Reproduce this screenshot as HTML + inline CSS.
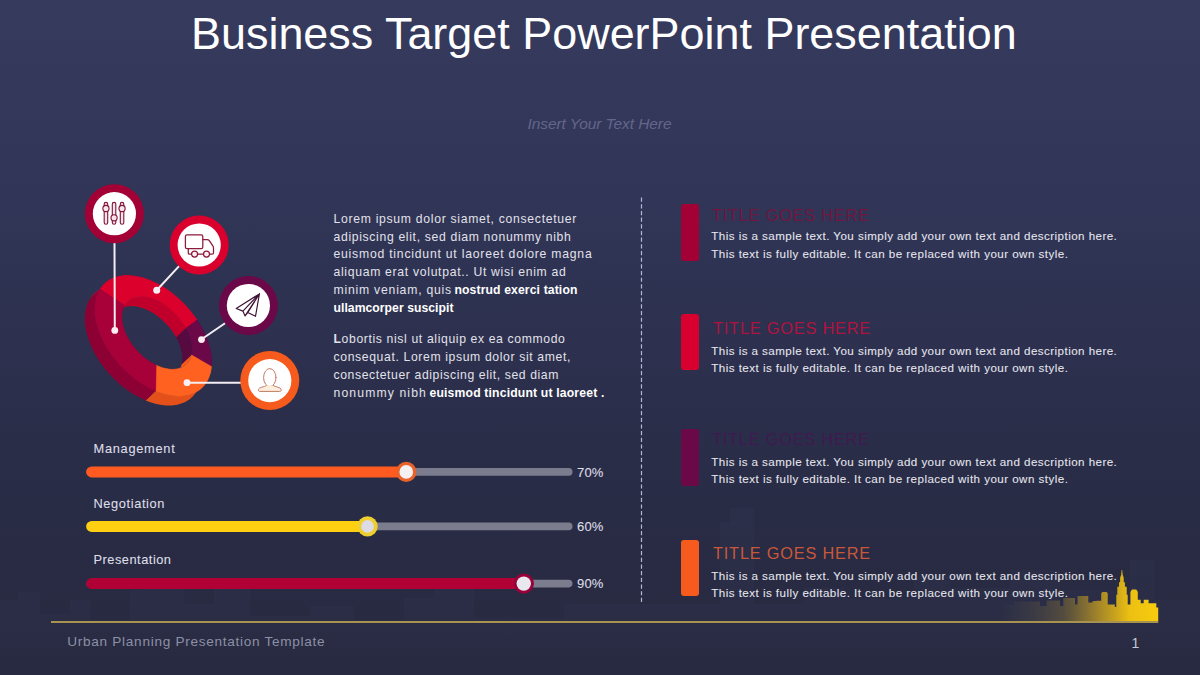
<!DOCTYPE html>
<html><head><meta charset="utf-8"><title>Business Target PowerPoint Presentation</title>
<style>
html,body{margin:0;padding:0;}
body{width:1200px;height:675px;overflow:hidden;position:relative;font-family:"Liberation Sans",sans-serif;
background:linear-gradient(180deg,#363a5d 0%,#33375a 20%,#2f3353 40%,#2b2e4a 62%,#282b43 80%,#272a40 100%);}
.t{position:absolute;white-space:nowrap;line-height:1;transform-origin:0 50%;}
.bar{position:absolute;left:681px;width:17.6px;height:56.4px;border-radius:3px;}
svg{position:absolute;left:0;top:0;}
.vline{position:absolute;left:640.5px;top:198px;height:405px;width:0;border-left:1px dashed #8a8ca2;}
.gold{position:absolute;left:51px;top:620.6px;width:1107px;height:2.2px;background:#a89250;}
</style></head><body>
<svg width="1200" height="675" viewBox="0 0 1200 675">
<defs><linearGradient id="cg" gradientUnits="userSpaceOnUse" x1="0" y1="560" x2="0" y2="665"><stop offset="0" stop-color="#aab0ff" stop-opacity="0.024"/><stop offset="0.6" stop-color="#aab0ff" stop-opacity="0.018"/><stop offset="1" stop-color="#aab0ff" stop-opacity="0"/></linearGradient></defs><g fill="url(#cg)"><path d="M0 675V600h18v-8h22v22h30v-14h20v20h40v-30h14v-12h40v26h30v-16h36v28h60v-10h44v14h50v-22h30v-10h40v30h90v-14h156v-82h10v-14h24v96h50v-16h40v10h70v-22h36v12h60v-18h50v20h70v-30h24v40h60v-12h60V675z"/></g>
<path d="M100.1 289.2 L101.4 287.3 L102.8 285.6 L104.3 284.0 L106.0 282.6 L107.7 281.2 L109.6 280.0 L111.6 279.0 L113.7 278.1 L115.9 277.3 L118.2 276.6 L120.5 276.2 L123.0 275.8 L125.5 275.6 L128.1 275.6 L130.7 275.7 L133.5 276.0 L136.2 276.4 L139.0 276.9 L141.9 277.6 L144.7 278.5 L147.6 279.5 L150.5 280.6 L153.4 281.9 L156.3 283.3 L159.2 284.8 L162.1 286.4 L165.0 288.2 L167.8 290.1 L170.6 292.1 L173.3 294.2 L176.0 296.5 L178.7 298.8 L181.3 301.2 L183.8 303.7 L186.2 306.3 L188.6 308.9 L190.8 311.6 L193.0 314.4 L195.1 317.2 L197.1 320.1 L187.1 329.6 L185.1 326.7 L183.0 323.9 L180.8 321.1 L178.6 318.4 L176.2 315.8 L173.8 313.2 L171.3 310.7 L168.7 308.3 L166.0 306.0 L163.3 303.7 L160.6 301.6 L157.8 299.6 L155.0 297.7 L152.1 295.9 L149.2 294.3 L146.3 292.8 L143.4 291.4 L140.5 290.1 L137.6 289.0 L134.7 288.0 L131.9 287.1 L129.0 286.4 L126.2 285.9 L123.5 285.5 L120.7 285.2 L118.1 285.1 L115.5 285.1 L113.0 285.3 L110.5 285.7 L108.2 286.1 L105.9 286.8 L103.7 287.6 L101.6 288.5 L99.6 289.5 L97.7 290.7 L96.0 292.1 L94.3 293.5 L92.8 295.1 L91.4 296.8 L90.1 298.7Z" fill="#c50029" />
<path d="M197.1 320.1 L197.8 321.3 L198.6 322.4 L199.3 323.6 L200.0 324.8 L200.7 326.0 L201.4 327.2 L202.0 328.4 L202.6 329.5 L203.2 330.7 L203.8 331.9 L204.4 333.1 L205.0 334.3 L205.5 335.5 L206.0 336.8 L206.5 338.0 L206.9 339.2 L207.4 340.4 L207.8 341.6 L208.2 342.7 L208.6 343.9 L208.9 345.1 L209.3 346.3 L209.6 347.5 L209.9 348.7 L210.2 349.9 L210.4 351.0 L210.6 352.2 L210.8 353.3 L211.0 354.5 L211.1 355.6 L211.3 356.8 L211.4 357.9 L211.5 359.0 L211.5 360.1 L211.6 361.2 L211.6 362.3 L211.6 363.3 L211.5 364.4 L211.5 365.5 L211.4 366.5 L201.4 376.0 L201.5 375.0 L201.5 373.9 L201.6 372.8 L201.6 371.8 L201.6 370.7 L201.5 369.6 L201.5 368.5 L201.4 367.4 L201.3 366.3 L201.1 365.1 L201.0 364.0 L200.8 362.8 L200.6 361.7 L200.4 360.5 L200.2 359.4 L199.9 358.2 L199.6 357.0 L199.3 355.8 L198.9 354.6 L198.6 353.4 L198.2 352.2 L197.8 351.1 L197.4 349.9 L196.9 348.7 L196.5 347.5 L196.0 346.3 L195.5 345.0 L195.0 343.8 L194.4 342.6 L193.8 341.4 L193.2 340.2 L192.6 339.0 L192.0 337.9 L191.4 336.7 L190.7 335.5 L190.0 334.3 L189.3 333.1 L188.6 331.9 L187.8 330.8 L187.1 329.6Z" fill="#52063c" />
<path d="M211.4 366.5 L211.2 368.4 L210.9 370.2 L210.6 372.0 L210.1 373.7 L209.6 375.3 L209.0 377.0 L208.4 378.5 L207.6 380.0 L206.8 381.5 L206.0 382.9 L205.0 384.2 L204.0 385.5 L203.0 386.7 L201.8 387.8 L200.6 388.9 L199.3 389.9 L198.0 390.8 L196.6 391.7 L195.2 392.4 L193.7 393.1 L192.1 393.8 L190.5 394.3 L188.9 394.8 L187.2 395.2 L185.4 395.5 L183.6 395.7 L181.8 395.9 L179.9 396.0 L178.0 396.0 L176.1 395.9 L174.2 395.8 L172.2 395.5 L170.1 395.2 L168.1 394.8 L166.0 394.4 L164.0 393.8 L161.9 393.2 L159.8 392.5 L157.7 391.7 L155.6 390.9 L145.6 400.4 L147.7 401.2 L149.8 402.0 L151.9 402.7 L154.0 403.3 L156.0 403.9 L158.1 404.3 L160.1 404.7 L162.2 405.0 L164.2 405.3 L166.1 405.4 L168.0 405.5 L169.9 405.5 L171.8 405.4 L173.6 405.2 L175.4 405.0 L177.2 404.7 L178.9 404.3 L180.5 403.8 L182.1 403.3 L183.7 402.6 L185.2 401.9 L186.6 401.2 L188.0 400.3 L189.3 399.4 L190.6 398.4 L191.8 397.3 L193.0 396.2 L194.0 395.0 L195.0 393.7 L196.0 392.4 L196.8 391.0 L197.6 389.5 L198.4 388.0 L199.0 386.5 L199.6 384.8 L200.1 383.2 L200.6 381.5 L200.9 379.7 L201.2 377.9 L201.4 376.0Z" fill="#e4501a" />
<path d="M155.6 390.9 L152.6 389.5 L149.6 388.1 L146.6 386.5 L143.7 384.8 L140.8 382.9 L137.9 381.0 L135.0 378.9 L132.2 376.7 L129.5 374.4 L126.8 372.0 L124.2 369.5 L121.6 366.9 L119.2 364.2 L116.8 361.5 L114.5 358.7 L112.3 355.8 L110.3 352.9 L108.3 349.9 L106.5 346.9 L104.7 343.9 L103.1 340.8 L101.7 337.8 L100.3 334.7 L99.1 331.6 L98.1 328.6 L97.2 325.5 L96.4 322.5 L95.8 319.5 L95.3 316.6 L95.0 313.7 L94.9 310.9 L94.8 308.1 L95.0 305.4 L95.3 302.8 L95.7 300.3 L96.3 297.9 L97.0 295.5 L97.9 293.3 L98.9 291.2 L100.1 289.2 L90.1 298.7 L88.9 300.7 L87.9 302.8 L87.0 305.0 L86.3 307.4 L85.7 309.8 L85.3 312.3 L85.0 314.9 L84.8 317.6 L84.9 320.4 L85.0 323.2 L85.3 326.1 L85.8 329.0 L86.4 332.0 L87.2 335.0 L88.1 338.1 L89.1 341.1 L90.3 344.2 L91.7 347.3 L93.1 350.3 L94.7 353.4 L96.5 356.4 L98.3 359.4 L100.3 362.4 L102.3 365.3 L104.5 368.2 L106.8 371.0 L109.2 373.7 L111.6 376.4 L114.2 379.0 L116.8 381.5 L119.5 383.9 L122.2 386.2 L125.0 388.4 L127.9 390.5 L130.8 392.4 L133.7 394.3 L136.6 396.0 L139.6 397.6 L142.6 399.0 L145.6 400.4Z" fill="#8d0034" />
<clipPath id="cin"><path d="M186.3 364.4 L184.7 365.8 L182.9 366.9 L180.9 367.8 L178.8 368.5 L176.6 369.0 L174.2 369.3 L171.8 369.3 L169.2 369.2 L166.6 368.8 L163.9 368.1 L161.2 367.3 L158.4 366.2 L155.6 365.0 L152.9 363.5 L150.1 361.9 L147.5 360.1 L144.8 358.1 L142.3 355.9 L139.8 353.7 L137.4 351.2 L135.2 348.7 L133.1 346.1 L131.1 343.4 L129.3 340.6 L127.7 337.8 L126.3 335.0 L125.0 332.1 L123.9 329.3 L123.1 326.4 L122.4 323.7 L122.0 320.9 L121.8 318.3 L121.8 315.7 L122.0 313.3 L122.4 310.9 L123.1 308.7 L123.9 306.7 L125.0 304.8 L126.2 303.1 L127.7 301.6 L129.3 300.2 L131.1 299.1 L133.1 298.2 L135.2 297.5 L137.4 297.0 L139.8 296.7 L142.2 296.7 L144.8 296.8 L147.4 297.2 L150.1 297.9 L152.8 298.7 L155.6 299.8 L158.4 301.0 L161.1 302.5 L163.9 304.1 L166.5 305.9 L169.2 307.9 L171.7 310.1 L174.2 312.3 L176.6 314.8 L178.8 317.3 L180.9 319.9 L182.9 322.6 L184.7 325.4 L186.3 328.2 L187.7 331.0 L189.0 333.9 L190.1 336.7 L190.9 339.6 L191.6 342.3 L192.0 345.1 L192.2 347.7 L192.2 350.3 L192.0 352.7 L191.6 355.1 L190.9 357.3 L190.1 359.3 L189.0 361.2 L187.8 362.9 L186.3 364.4Z" fill="#000" /></clipPath>
<g clip-path="url(#cin)">
<path d="M124.6 305.3 L125.4 304.1 L126.3 303.0 L127.3 301.9 L128.3 301.0 L129.5 300.1 L130.7 299.3 L132.0 298.6 L133.4 298.0 L134.8 297.6 L136.3 297.2 L137.8 296.9 L139.5 296.7 L141.1 296.6 L142.8 296.7 L144.6 296.8 L146.3 297.0 L148.2 297.4 L150.0 297.8 L151.8 298.4 L153.7 299.0 L155.6 299.8 L157.5 300.6 L159.4 301.5 L161.2 302.5 L163.1 303.6 L165.0 304.8 L166.8 306.1 L168.6 307.4 L170.3 308.9 L172.1 310.4 L173.7 311.9 L175.4 313.5 L177.0 315.2 L178.5 316.9 L180.0 318.7 L181.3 320.5 L182.7 322.3 L183.9 324.2 L185.1 326.1 L186.2 328.0 L176.2 337.5 L175.1 335.6 L173.9 333.7 L172.7 331.8 L171.3 330.0 L170.0 328.2 L168.5 326.4 L167.0 324.7 L165.4 323.0 L163.7 321.4 L162.1 319.9 L160.3 318.4 L158.6 316.9 L156.8 315.6 L155.0 314.3 L153.1 313.1 L151.2 312.0 L149.4 311.0 L147.5 310.1 L145.6 309.3 L143.7 308.5 L141.8 307.9 L140.0 307.3 L138.2 306.9 L136.3 306.5 L134.6 306.3 L132.8 306.2 L131.1 306.1 L129.5 306.2 L127.8 306.4 L126.3 306.7 L124.8 307.1 L123.4 307.5 L122.0 308.1 L120.7 308.8 L119.5 309.6 L118.3 310.5 L117.3 311.4 L116.3 312.5 L115.4 313.6 L114.6 314.8Z" fill="#c0002b" />
<path d="M186.2 328.0 L186.6 328.7 L187.0 329.4 L187.3 330.2 L187.7 330.9 L188.0 331.6 L188.3 332.3 L188.7 333.0 L189.0 333.8 L189.2 334.5 L189.5 335.2 L189.8 335.9 L190.0 336.6 L190.3 337.3 L190.5 338.1 L190.7 338.8 L190.9 339.5 L191.1 340.2 L191.3 340.9 L191.4 341.6 L191.6 342.3 L191.7 343.0 L191.8 343.7 L191.9 344.4 L192.0 345.0 L192.1 345.7 L192.1 346.4 L192.2 347.1 L192.2 347.7 L192.2 348.4 L192.3 349.0 L192.2 349.7 L192.2 350.3 L192.2 350.9 L192.1 351.6 L192.1 352.2 L192.0 352.8 L191.9 353.4 L191.8 354.0 L191.7 354.6 L191.6 355.1 L181.6 364.6 L181.7 364.1 L181.8 363.5 L181.9 362.9 L182.0 362.3 L182.1 361.7 L182.1 361.1 L182.2 360.4 L182.2 359.8 L182.2 359.2 L182.3 358.5 L182.2 357.9 L182.2 357.2 L182.2 356.6 L182.1 355.9 L182.1 355.2 L182.0 354.5 L181.9 353.9 L181.8 353.2 L181.7 352.5 L181.6 351.8 L181.4 351.1 L181.3 350.4 L181.1 349.7 L180.9 349.0 L180.7 348.3 L180.5 347.6 L180.3 346.8 L180.0 346.1 L179.8 345.4 L179.5 344.7 L179.2 344.0 L179.0 343.3 L178.7 342.5 L178.3 341.8 L178.0 341.1 L177.7 340.4 L177.3 339.7 L177.0 338.9 L176.6 338.2 L176.2 337.5Z" fill="#560a40" />
<path d="M191.6 355.1 L191.3 356.1 L191.0 357.1 L190.6 358.0 L190.3 358.9 L189.8 359.8 L189.4 360.7 L188.9 361.5 L188.3 362.2 L187.7 363.0 L187.1 363.7 L186.4 364.3 L185.7 365.0 L185.0 365.6 L184.2 366.1 L183.4 366.6 L182.6 367.1 L181.8 367.5 L180.9 367.9 L179.9 368.2 L179.0 368.5 L178.0 368.8 L177.0 369.0 L176.0 369.1 L174.9 369.2 L173.9 369.3 L172.8 369.4 L171.7 369.3 L170.5 369.3 L169.4 369.2 L168.2 369.0 L167.0 368.8 L165.9 368.6 L164.7 368.3 L163.5 368.0 L162.2 367.7 L161.0 367.2 L159.8 366.8 L158.6 366.3 L157.3 365.8 L156.1 365.2 L146.1 374.7 L147.3 375.3 L148.6 375.8 L149.8 376.3 L151.0 376.7 L152.2 377.2 L153.5 377.5 L154.7 377.8 L155.9 378.1 L157.0 378.3 L158.2 378.5 L159.4 378.7 L160.5 378.8 L161.7 378.8 L162.8 378.9 L163.9 378.8 L164.9 378.7 L166.0 378.6 L167.0 378.5 L168.0 378.3 L169.0 378.0 L169.9 377.7 L170.9 377.4 L171.8 377.0 L172.6 376.6 L173.4 376.1 L174.2 375.6 L175.0 375.1 L175.7 374.5 L176.4 373.8 L177.1 373.2 L177.7 372.5 L178.3 371.7 L178.9 371.0 L179.4 370.2 L179.8 369.3 L180.3 368.4 L180.6 367.5 L181.0 366.6 L181.3 365.6 L181.6 364.6Z" fill="#f2581c" />
<path d="M156.1 365.2 L154.4 364.3 L152.7 363.4 L151.0 362.4 L149.3 361.3 L147.6 360.2 L146.0 359.0 L144.3 357.7 L142.7 356.4 L141.2 355.0 L139.7 353.5 L138.2 352.0 L136.8 350.5 L135.4 348.9 L134.0 347.3 L132.8 345.7 L131.5 344.0 L130.4 342.3 L129.3 340.6 L128.3 338.8 L127.3 337.1 L126.4 335.3 L125.6 333.5 L124.8 331.7 L124.2 330.0 L123.6 328.2 L123.1 326.4 L122.7 324.7 L122.3 323.0 L122.0 321.3 L121.9 319.6 L121.8 318.0 L121.8 316.4 L121.8 314.8 L122.0 313.3 L122.2 311.9 L122.5 310.4 L122.9 309.1 L123.4 307.8 L124.0 306.5 L124.6 305.3 L114.6 314.8 L114.0 316.0 L113.4 317.3 L112.9 318.6 L112.5 319.9 L112.2 321.4 L112.0 322.8 L111.8 324.3 L111.8 325.9 L111.8 327.5 L111.9 329.1 L112.0 330.8 L112.3 332.5 L112.7 334.2 L113.1 335.9 L113.6 337.7 L114.2 339.5 L114.8 341.2 L115.6 343.0 L116.4 344.8 L117.3 346.6 L118.3 348.3 L119.3 350.1 L120.4 351.8 L121.5 353.5 L122.8 355.2 L124.0 356.8 L125.4 358.4 L126.8 360.0 L128.2 361.5 L129.7 363.0 L131.2 364.5 L132.7 365.9 L134.3 367.2 L136.0 368.5 L137.6 369.7 L139.3 370.8 L141.0 371.9 L142.7 372.9 L144.4 373.8 L146.1 374.7Z" fill="#8d0034" />
</g>
<path d="M100.1 289.2 L101.4 287.3 L102.8 285.6 L104.3 284.0 L106.0 282.6 L107.7 281.2 L109.6 280.0 L111.6 279.0 L113.7 278.1 L115.9 277.3 L118.2 276.6 L120.5 276.2 L123.0 275.8 L125.5 275.6 L128.1 275.6 L130.7 275.7 L133.5 276.0 L136.2 276.4 L139.0 276.9 L141.9 277.6 L144.7 278.5 L147.6 279.5 L150.5 280.6 L153.4 281.9 L156.3 283.3 L159.2 284.8 L162.1 286.4 L165.0 288.2 L167.8 290.1 L170.6 292.1 L173.3 294.2 L176.0 296.5 L178.7 298.8 L181.3 301.2 L183.8 303.7 L186.2 306.3 L188.6 308.9 L190.8 311.6 L193.0 314.4 L195.1 317.2 L197.1 320.1 L186.2 328.0 L185.1 326.1 L183.9 324.2 L182.7 322.3 L181.3 320.5 L180.0 318.7 L178.5 316.9 L177.0 315.2 L175.4 313.5 L173.7 311.9 L172.1 310.4 L170.3 308.9 L168.6 307.4 L166.8 306.1 L165.0 304.8 L163.1 303.6 L161.2 302.5 L159.4 301.5 L157.5 300.6 L155.6 299.8 L153.7 299.0 L151.8 298.4 L150.0 297.8 L148.2 297.4 L146.3 297.0 L144.6 296.8 L142.8 296.7 L141.1 296.6 L139.5 296.7 L137.8 296.9 L136.3 297.2 L134.8 297.6 L133.4 298.0 L132.0 298.6 L130.7 299.3 L129.5 300.1 L128.3 301.0 L127.3 301.9 L126.3 303.0 L125.4 304.1 L124.6 305.3Z" fill="#dc002d" stroke="#dc002d" stroke-width="0.6"/>
<path d="M197.1 320.1 L197.8 321.3 L198.6 322.4 L199.3 323.6 L200.0 324.8 L200.7 326.0 L201.4 327.2 L202.0 328.4 L202.6 329.5 L203.2 330.7 L203.8 331.9 L204.4 333.1 L205.0 334.3 L205.5 335.5 L206.0 336.8 L206.5 338.0 L206.9 339.2 L207.4 340.4 L207.8 341.6 L208.2 342.7 L208.6 343.9 L208.9 345.1 L209.3 346.3 L209.6 347.5 L209.9 348.7 L210.2 349.9 L210.4 351.0 L210.6 352.2 L210.8 353.3 L211.0 354.5 L211.1 355.6 L211.3 356.8 L211.4 357.9 L211.5 359.0 L211.5 360.1 L211.6 361.2 L211.6 362.3 L211.6 363.3 L211.5 364.4 L211.5 365.5 L211.4 366.5 L191.6 355.1 L191.7 354.6 L191.8 354.0 L191.9 353.4 L192.0 352.8 L192.1 352.2 L192.1 351.6 L192.2 350.9 L192.2 350.3 L192.2 349.7 L192.3 349.0 L192.2 348.4 L192.2 347.7 L192.2 347.1 L192.1 346.4 L192.1 345.7 L192.0 345.0 L191.9 344.4 L191.8 343.7 L191.7 343.0 L191.6 342.3 L191.4 341.6 L191.3 340.9 L191.1 340.2 L190.9 339.5 L190.7 338.8 L190.5 338.1 L190.3 337.3 L190.0 336.6 L189.8 335.9 L189.5 335.2 L189.2 334.5 L189.0 333.8 L188.7 333.0 L188.3 332.3 L188.0 331.6 L187.7 330.9 L187.3 330.2 L187.0 329.4 L186.6 328.7 L186.2 328.0Z" fill="#6a0848" stroke="#6a0848" stroke-width="0.6"/>
<path d="M211.4 366.5 L211.2 368.4 L210.9 370.2 L210.6 372.0 L210.1 373.7 L209.6 375.3 L209.0 377.0 L208.4 378.5 L207.6 380.0 L206.8 381.5 L206.0 382.9 L205.0 384.2 L204.0 385.5 L203.0 386.7 L201.8 387.8 L200.6 388.9 L199.3 389.9 L198.0 390.8 L196.6 391.7 L195.2 392.4 L193.7 393.1 L192.1 393.8 L190.5 394.3 L188.9 394.8 L187.2 395.2 L185.4 395.5 L183.6 395.7 L181.8 395.9 L179.9 396.0 L178.0 396.0 L176.1 395.9 L174.2 395.8 L172.2 395.5 L170.1 395.2 L168.1 394.8 L166.0 394.4 L164.0 393.8 L161.9 393.2 L159.8 392.5 L157.7 391.7 L155.6 390.9 L156.1 365.2 L157.3 365.8 L158.6 366.3 L159.8 366.8 L161.0 367.2 L162.2 367.7 L163.5 368.0 L164.7 368.3 L165.9 368.6 L167.0 368.8 L168.2 369.0 L169.4 369.2 L170.5 369.3 L171.7 369.3 L172.8 369.4 L173.9 369.3 L174.9 369.2 L176.0 369.1 L177.0 369.0 L178.0 368.8 L179.0 368.5 L179.9 368.2 L180.9 367.9 L181.8 367.5 L182.6 367.1 L183.4 366.6 L184.2 366.1 L185.0 365.6 L185.7 365.0 L186.4 364.3 L187.1 363.7 L187.7 363.0 L188.3 362.2 L188.9 361.5 L189.4 360.7 L189.8 359.8 L190.3 358.9 L190.6 358.0 L191.0 357.1 L191.3 356.1 L191.6 355.1Z" fill="#ff6220" stroke="#ff6220" stroke-width="0.6"/>
<path d="M155.6 390.9 L152.6 389.5 L149.6 388.1 L146.6 386.5 L143.7 384.8 L140.8 382.9 L137.9 381.0 L135.0 378.9 L132.2 376.7 L129.5 374.4 L126.8 372.0 L124.2 369.5 L121.6 366.9 L119.2 364.2 L116.8 361.5 L114.5 358.7 L112.3 355.8 L110.3 352.9 L108.3 349.9 L106.5 346.9 L104.7 343.9 L103.1 340.8 L101.7 337.8 L100.3 334.7 L99.1 331.6 L98.1 328.6 L97.2 325.5 L96.4 322.5 L95.8 319.5 L95.3 316.6 L95.0 313.7 L94.9 310.9 L94.8 308.1 L95.0 305.4 L95.3 302.8 L95.7 300.3 L96.3 297.9 L97.0 295.5 L97.9 293.3 L98.9 291.2 L100.1 289.2 L124.6 305.3 L124.0 306.5 L123.4 307.8 L122.9 309.1 L122.5 310.4 L122.2 311.9 L122.0 313.3 L121.8 314.8 L121.8 316.4 L121.8 318.0 L121.9 319.6 L122.0 321.3 L122.3 323.0 L122.7 324.7 L123.1 326.4 L123.6 328.2 L124.2 330.0 L124.8 331.7 L125.6 333.5 L126.4 335.3 L127.3 337.1 L128.3 338.8 L129.3 340.6 L130.4 342.3 L131.5 344.0 L132.8 345.7 L134.0 347.3 L135.4 348.9 L136.8 350.5 L138.2 352.0 L139.7 353.5 L141.2 355.0 L142.7 356.4 L144.3 357.7 L146.0 359.0 L147.6 360.2 L149.3 361.3 L151.0 362.4 L152.7 363.4 L154.4 364.3 L156.1 365.2Z" fill="#a80038" stroke="#a80038" stroke-width="0.6"/>
<g stroke="#f3eef2" stroke-width="2" stroke-linecap="round"><line x1="114.5" y1="243" x2="114.8" y2="330"/><line x1="156.7" y1="290.3" x2="178.8" y2="266.4"/><line x1="201.6" y1="339.3" x2="225" y2="323.2"/><line x1="187" y1="382.7" x2="241" y2="382.7"/></g><g fill="#fbeef2"><circle cx="114.8" cy="330.4" r="3.4"/><circle cx="156.7" cy="290.3" r="3.5"/><circle cx="201.5" cy="339.6" r="3.4"/><circle cx="187" cy="382.7" r="3.4"/></g>
<circle cx="114.4" cy="213.7" r="29.5" fill="#a30035"/><circle cx="114.4" cy="213.7" r="21.6" fill="#fff"/><circle cx="199.2" cy="245.0" r="29.5" fill="#da002d"/><circle cx="199.2" cy="245.0" r="21.6" fill="#fff"/><circle cx="248.4" cy="305.5" r="29.5" fill="#6a0848"/><circle cx="248.4" cy="305.5" r="21.6" fill="#fff"/><circle cx="269.8" cy="380.6" r="29.5" fill="#f65a1c"/><circle cx="269.8" cy="380.6" r="21.6" fill="#fff"/>

<g fill="#fbe3ea" stroke="#7d1238" stroke-width="1.1" stroke-linejoin="round" stroke-linecap="round">
 <rect x="104.2" y="202.4" width="3.5" height="21.8" rx="1.75"/><circle cx="105.95" cy="208.5" r="3.1"/>
 <rect x="112.3" y="202.4" width="3.5" height="21.8" rx="1.75"/><circle cx="114.05" cy="217.8" r="3.1"/>
 <rect x="120.3" y="202.4" width="3.5" height="21.8" rx="1.75"/><circle cx="122.05" cy="208.5" r="3.1"/>
</g>
<g fill="none" stroke="#8c1a3c" stroke-width="1.25" stroke-linejoin="round" stroke-linecap="round">
 <rect x="185.4" y="234.8" width="17.4" height="13.7" rx="1.6"/>
 <path d="M188.3 248.5 v4.4 a1.2 1.2 0 0 0 1.2 1.2 h2 M197.7 254.1 h5.7 M209.6 254.1 h2.7 a1.2 1.2 0 0 0 1.2 -1.2 v-4.9 c0 -1 -0.3 -1.6 -0.8 -2.3 l-3.4 -5 c-0.6 -0.8 -1.1 -1.1 -2.1 -1.1 h-4.4"/>
 <circle cx="194.6" cy="254.1" r="3" fill="#fdeef2"/><circle cx="206.5" cy="254.1" r="3" fill="#fdeef2"/>
</g>
<g fill="none" stroke="#3d1232" stroke-width="1.15" stroke-linejoin="round" stroke-linecap="round">
 <path d="M236.2 308.5 L259.4 293.9 L255.5 316.3 L247.7 312.6 L245.1 315.9 L242.9 311.1 Z M259.4 293.9 L242.9 311.1 M259.4 293.9 L245.1 315.9 M259.4 293.9 L247.7 312.6"/>
</g>
<g fill="none" stroke="#c07a62" stroke-width="1" stroke-linejoin="round" stroke-linecap="round">
 <ellipse cx="269.8" cy="377.6" rx="6.2" ry="9"/>
 <path d="M266.2 385.6 c-1.6 1.4 -7.4 1.6 -7.8 4 c-0.2 1.3 0.5 1.8 1.6 1.8 h19.6 c1.1 0 1.8 -0.5 1.6 -1.8 c-0.4 -2.4 -6.2 -2.6 -7.8 -4" fill="#ffeedd"/>
</g>

<rect x="86.5" y="468.10" width="486" height="7.6" rx="3.8" fill="#7b7c8d"/><rect x="86.2" y="466.40" width="324.1" height="11" rx="5.5" fill="#ff5a1f"/><circle cx="406.25" cy="471.90" r="10.2" fill="#e8622a"/><circle cx="406.25" cy="471.90" r="6.8" fill="#f6f1f1"/><rect x="86.5" y="522.60" width="486" height="7.6" rx="3.8" fill="#7b7c8d"/><rect x="86.2" y="520.90" width="285.3" height="11" rx="5.5" fill="#ffd012"/><circle cx="367.50" cy="526.40" r="10.2" fill="#efce30"/><circle cx="367.50" cy="526.40" r="6.3" fill="#dcdce6"/><rect x="86.5" y="579.80" width="486" height="7.6" rx="3.8" fill="#7b7c8d"/><rect x="86.2" y="578.10" width="441.6" height="11" rx="5.5" fill="#b00035"/><circle cx="523.75" cy="583.60" r="10.2" fill="#98003a"/><circle cx="523.75" cy="583.60" r="7.2" fill="#e8e8ee"/>
<defs><linearGradient id="gg" gradientUnits="userSpaceOnUse" x1="1000" y1="0" x2="1158" y2="0"><stop offset="0" stop-color="#8c7a4a" stop-opacity="0"/><stop offset="0.13" stop-color="#8c7a4a" stop-opacity="0.10"/><stop offset="0.40" stop-color="#b3922e" stop-opacity="0.30"/><stop offset="0.62" stop-color="#d2a71e" stop-opacity="0.72"/><stop offset="0.82" stop-color="#ecc012" stop-opacity="1"/><stop offset="1" stop-color="#f7cc0e" stop-opacity="1"/></linearGradient></defs><path d="M1002.2 623.0 L1002.2 604.4 L1014.1 604.4 L1014.1 601.6 L1040.0 601.6 L1040.0 605.9 L1046.7 605.9 L1046.7 600.4 L1060.0 600.4 L1060.0 605.9 L1063.3 605.9 L1063.3 597.9 L1075.0 597.9 L1075.0 604.4 L1077.5 604.4 L1077.5 595.9 L1088.3 595.9 L1088.3 602.5 L1092.6 602.5 L1092.6 601.0 L1096.3 601.0 L1096.3 600.7 L1101.2 600.7 L1101.2 593.3 L1102.4 591.9 L1106.5 591.9 L1107.7 593.3 L1107.7 604.4 L1114.8 604.4 L1114.8 607.1 L1116.3 607.1 L1116.3 594.8 L1117.3 594.8 L1117.3 586.7 L1119.0 586.7 L1119.0 582.2 L1120.1 582.2 L1120.1 577.8 L1121.2 574.8 L1121.6 570.1 L1122.2 570.1 L1122.7 574.8 L1123.7 577.8 L1123.7 582.2 L1124.9 582.2 L1124.9 586.7 L1126.7 586.7 L1126.7 594.8 L1127.7 594.8 L1127.7 604.4 L1130.4 604.4 L1130.4 591.9 L1131.9 589.6 L1136.3 589.6 L1137.8 591.9 L1137.8 599.7 L1140.7 599.7 L1140.7 603.3 L1143.7 603.3 L1143.7 599.7 L1148.6 599.7 L1148.6 603.3 L1156.3 603.3 L1156.3 607.4 L1158.2 607.4 L1158.2 623.0Z" fill="url(#gg)"/>
<line x1="641.5" y1="197.6" x2="641.5" y2="602.4" stroke="#b6b8d2" stroke-width="1.2" stroke-dasharray="4.2 2.47"/>
</svg>
<div class="gold"></div>
<div class="bar" style="top:204.4px;background:#a30035"></div>
<div class="bar" style="top:313.8px;background:#d8002f"></div>
<div class="bar" style="top:429.2px;background:#6a0848"></div>
<div class="bar" style="top:539.8px;background:#f65a1c"></div>
<div class="t" id="p1a" style="left:333.50px;top:212.67px;font-size:12.20px;letter-spacing:0.704px;color:#e2e2ea;">Lorem ipsum dolor siamet, consectetuer</div>
<div class="t" id="p1b" style="left:333.50px;top:230.57px;font-size:12.20px;letter-spacing:0.665px;color:#e2e2ea;">adipiscing elit, sed diam nonummy nibh</div>
<div class="t" id="p1c" style="left:333.50px;top:248.47px;font-size:12.20px;letter-spacing:0.781px;color:#e2e2ea;">euismod tincidunt ut laoreet dolore magna</div>
<div class="t" id="p1d" style="left:333.50px;top:266.47px;font-size:12.20px;letter-spacing:0.694px;color:#e2e2ea;">aliquam erat volutpat.. Ut wisi enim ad</div>
<div class="t" id="p1e" style="left:333.50px;top:284.47px;font-size:12.20px;letter-spacing:0.788px;color:#e2e2ea;">minim veniam, quis</div>
<div class="t" id="p1f" style="left:454.50px;top:284.47px;font-size:12.20px;letter-spacing:0.117px;color:#fff;font-weight:bold;">nostrud exerci tation</div>
<div class="t" id="p1g" style="left:333.50px;top:302.27px;font-size:12.20px;letter-spacing:0.040px;color:#fff;font-weight:bold;">ullamcorper suscipit</div>
<div class="t" id="p2a" style="left:333.50px;top:333.42px;font-size:12.20px;letter-spacing:0.632px;color:#e2e2ea;"><b style="-webkit-text-stroke:0">L</b>obortis nisl ut aliquip ex ea commodo</div>
<div class="t" id="p2b" style="left:333.50px;top:351.37px;font-size:12.20px;letter-spacing:0.634px;color:#e2e2ea;">consequat. Lorem ipsum dolor sit amet,</div>
<div class="t" id="p2c" style="left:333.50px;top:369.27px;font-size:12.20px;letter-spacing:0.604px;color:#e2e2ea;">consectetuer adipiscing elit, sed diam</div>
<div class="t" id="p2d" style="left:333.50px;top:387.17px;font-size:12.20px;letter-spacing:1.129px;color:#e2e2ea;">nonummy nibh</div>
<div class="t" id="p2e" style="left:429.50px;top:387.17px;font-size:12.20px;letter-spacing:0.168px;color:#fff;font-weight:bold;">euismod tincidunt ut laoreet .</div>
<div class="t" id="title" style="left:190.50px;top:11.92px;font-size:43.80px;transform:scaleX(1.0256);color:#fff;">Business Target PowerPoint Presentation</div>
<div class="t" id="sub" style="left:527.50px;top:115.58px;font-size:15.50px;letter-spacing:-0.077px;color:#63668a;font-style:italic;">Insert Your Text Here</div>
<div class="t" id="it0" style="left:711.90px;top:206.80px;font-size:16.30px;letter-spacing:0.822px;color:#70173f;">TITLE GOES HERE</div>
<div class="t" id="d0a" style="left:711.30px;top:230.48px;font-size:11.60px;letter-spacing:0.441px;color:#e6e6ee;-webkit-text-stroke:0.07px #e6e6ee;">This is a sample text. You simply add your own text and description here.</div>
<div class="t" id="d0b" style="left:711.30px;top:247.58px;font-size:11.60px;letter-spacing:0.455px;color:#e6e6ee;-webkit-text-stroke:0.07px #e6e6ee;">This text is fully editable. It can be replaced with your own style.</div>
<div class="t" id="it1" style="left:713.00px;top:320.10px;font-size:16.30px;letter-spacing:0.822px;color:#b0133f;">TITLE GOES HERE</div>
<div class="t" id="d1a" style="left:711.30px;top:345.38px;font-size:11.60px;letter-spacing:0.441px;color:#e6e6ee;-webkit-text-stroke:0.07px #e6e6ee;">This is a sample text. You simply add your own text and description here.</div>
<div class="t" id="d1b" style="left:711.30px;top:362.38px;font-size:11.60px;letter-spacing:0.455px;color:#e6e6ee;-webkit-text-stroke:0.07px #e6e6ee;">This text is fully editable. It can be replaced with your own style.</div>
<div class="t" id="it2" style="left:711.90px;top:431.10px;font-size:16.30px;letter-spacing:0.822px;color:#3f1a50;">TITLE GOES HERE</div>
<div class="t" id="d2a" style="left:711.30px;top:455.78px;font-size:11.60px;letter-spacing:0.441px;color:#e6e6ee;-webkit-text-stroke:0.07px #e6e6ee;">This is a sample text. You simply add your own text and description here.</div>
<div class="t" id="d2b" style="left:711.30px;top:472.78px;font-size:11.60px;letter-spacing:0.455px;color:#e6e6ee;-webkit-text-stroke:0.07px #e6e6ee;">This text is fully editable. It can be replaced with your own style.</div>
<div class="t" id="it3" style="left:713.00px;top:545.10px;font-size:16.30px;letter-spacing:0.822px;color:#c9583a;">TITLE GOES HERE</div>
<div class="t" id="d3a" style="left:711.30px;top:570.38px;font-size:11.60px;letter-spacing:0.441px;color:#e6e6ee;-webkit-text-stroke:0.07px #e6e6ee;">This is a sample text. You simply add your own text and description here.</div>
<div class="t" id="d3b" style="left:711.30px;top:587.38px;font-size:11.60px;letter-spacing:0.455px;color:#e6e6ee;-webkit-text-stroke:0.07px #e6e6ee;">This text is fully editable. It can be replaced with your own style.</div>
<div class="t" id="l1" style="left:93.50px;top:442.66px;font-size:12.80px;letter-spacing:0.730px;color:#dedee6;-webkit-text-stroke:0.1px #dedee6;">Management</div>
<div class="t" id="l2" style="left:93.50px;top:497.96px;font-size:12.80px;letter-spacing:0.614px;color:#dedee6;-webkit-text-stroke:0.1px #dedee6;">Negotiation</div>
<div class="t" id="l3" style="left:93.50px;top:553.96px;font-size:12.80px;letter-spacing:0.512px;color:#dedee6;-webkit-text-stroke:0.1px #dedee6;">Presentation</div>
<div class="t" id="v1" style="left:577.00px;top:466.00px;font-size:13.00px;letter-spacing:0.156px;color:#dedee6;-webkit-text-stroke:0.1px #dedee6;">70%</div>
<div class="t" id="v2" style="left:577.00px;top:519.50px;font-size:13.00px;letter-spacing:0.156px;color:#dedee6;-webkit-text-stroke:0.1px #dedee6;">60%</div>
<div class="t" id="v3" style="left:577.00px;top:577.00px;font-size:13.00px;letter-spacing:0.156px;color:#dedee6;-webkit-text-stroke:0.1px #dedee6;">90%</div>
<div class="t" id="foot" style="left:67.30px;top:635.24px;font-size:13.60px;letter-spacing:0.708px;color:#8d90a6;">Urban Planning Presentation Template</div>
<div class="t" id="pn" style="left:1131.50px;top:635.65px;font-size:14.00px;letter-spacing:1.203px;color:#c8c8d4;">1</div>
</body></html>
